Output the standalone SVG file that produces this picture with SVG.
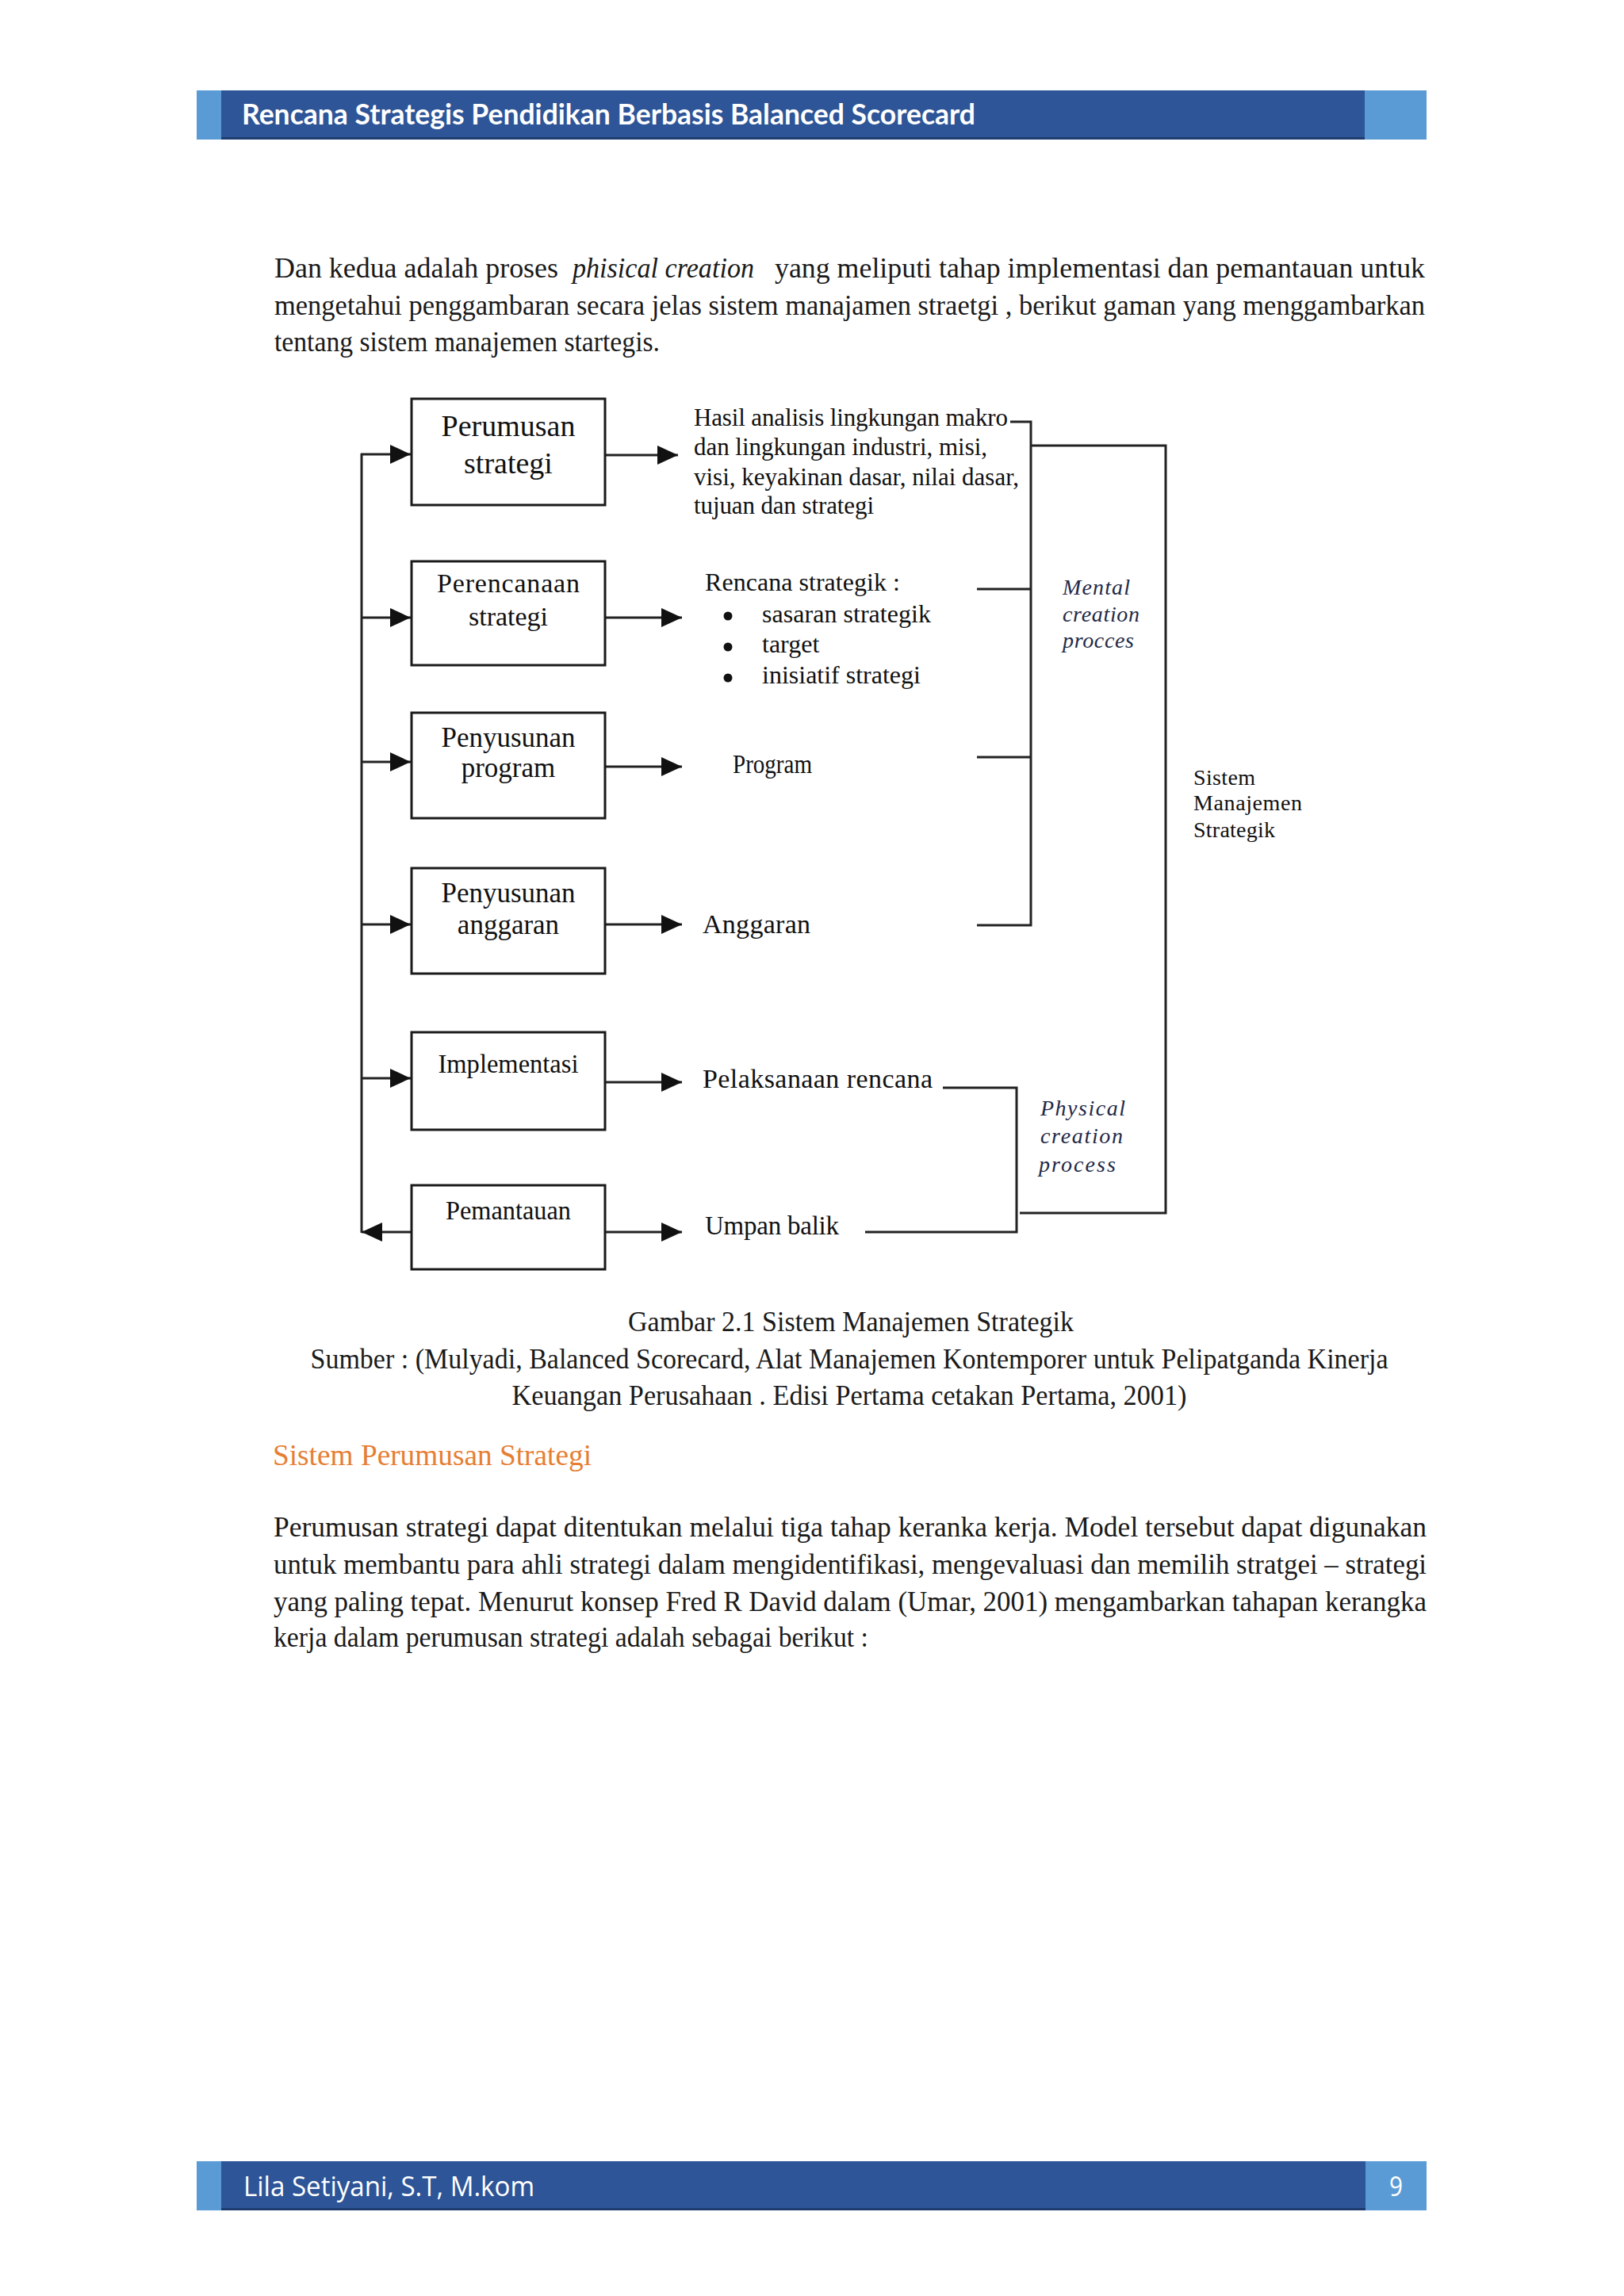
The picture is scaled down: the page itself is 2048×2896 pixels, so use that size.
<svg xmlns="http://www.w3.org/2000/svg" width="2048" height="2896" viewBox="0 0 2048 2896">
<defs>
<style>
.body{font-family:"Liberation Serif","Times New Roman",serif;font-size:35px;fill:#1a1a1a}
.dia{font-family:"Liberation Serif","Times New Roman",serif;fill:#111}
.box{fill:#fff;stroke:#1a1a1a;stroke-width:3}
.ln{fill:none;stroke:#222;stroke-width:3}
.ital{font-family:"Liberation Serif","Times New Roman",serif;font-style:italic;font-size:28px;fill:#1f2a48}
.hdr{font-family:Lato,"Open Sans",sans-serif;font-weight:bold;fill:#fff}
.ftr{font-family:"Open Sans","Noto Sans",sans-serif;fill:#fff}
</style>
<marker id="ah" viewBox="0 0 26 24" refX="26" refY="12" markerWidth="26" markerHeight="24" markerUnits="userSpaceOnUse" orient="auto">
<path d="M0,0 L26,12 L0,24 Z" fill="#111"/>
</marker>
</defs>
<rect x="0" y="0" width="2048" height="2896" fill="#fff"/>

<g id="header">
<rect x="248" y="114" width="1551" height="62" fill="#5b9bd5"/>
<rect x="279" y="114" width="1442" height="62" fill="#2e5597"/>
<rect x="279" y="173" width="1442" height="3" fill="#1f3c6e"/>
<text class="hdr" x="305" y="157" font-size="36" textLength="925" lengthAdjust="spacingAndGlyphs">Rencana Strategis Pendidikan Berbasis Balanced Scorecard</text>
</g>

<g id="intro-paragraph">
<text class="body" x="346" y="350" textLength="358" lengthAdjust="spacingAndGlyphs">Dan kedua adalah proses</text>
<text class="body" x="722" y="350" font-style="italic" textLength="229" lengthAdjust="spacingAndGlyphs">phisical creation</text>
<text class="body" x="977" y="350" textLength="820" lengthAdjust="spacingAndGlyphs">yang meliputi tahap implementasi dan pemantauan untuk</text>
<text class="body" x="346" y="397" textLength="1451" lengthAdjust="spacingAndGlyphs">mengetahui penggambaran secara jelas sistem manajamen straetgi , berikut gaman yang menggambarkan</text>
<text class="body" x="346" y="443" textLength="486" lengthAdjust="spacingAndGlyphs">tentang sistem manajemen startegis.</text>
</g>

<g id="connectors">
<line class="ln" x1="456" y1="572" x2="456" y2="1555"/>
<line class="ln" x1="455" y1="573" x2="518" y2="573" marker-end="url(#ah)"/>
<line class="ln" x1="455" y1="779" x2="518" y2="779" marker-end="url(#ah)"/>
<line class="ln" x1="455" y1="961" x2="518" y2="961" marker-end="url(#ah)"/>
<line class="ln" x1="455" y1="1166" x2="518" y2="1166" marker-end="url(#ah)"/>
<line class="ln" x1="455" y1="1360" x2="518" y2="1360" marker-end="url(#ah)"/>
<line class="ln" x1="519" y1="1554" x2="456" y2="1554" marker-end="url(#ah)"/>
<line class="ln" x1="763" y1="574" x2="855" y2="574" marker-end="url(#ah)"/>
<line class="ln" x1="763" y1="779" x2="860" y2="779" marker-end="url(#ah)"/>
<line class="ln" x1="763" y1="967" x2="860" y2="967" marker-end="url(#ah)"/>
<line class="ln" x1="763" y1="1166" x2="860" y2="1166" marker-end="url(#ah)"/>
<line class="ln" x1="763" y1="1365" x2="860" y2="1365" marker-end="url(#ah)"/>
<line class="ln" x1="763" y1="1554" x2="860" y2="1554" marker-end="url(#ah)"/>
<polyline class="ln" points="1274,532 1300,532 1300,1167 1232,1167"/>
<line class="ln" x1="1232" y1="743" x2="1300" y2="743"/>
<line class="ln" x1="1232" y1="955" x2="1300" y2="955"/>
<polyline class="ln" points="1189,1372 1282,1372 1282,1554 1091,1554"/>
<polyline class="ln" points="1300,562 1470,562 1470,1530 1286,1530"/>
</g>

<g id="node-perumusan">
<rect class="box" x="519" y="503" width="244" height="134"/>
<text class="dia" x="641" y="550" font-size="38" text-anchor="middle">Perumusan</text>
<text class="dia" x="641" y="597" font-size="38" text-anchor="middle">strategi</text>
</g>
<g id="node-perencanaan">
<rect class="box" x="519" y="708" width="244" height="131"/>
<text class="dia" x="641" y="747" font-size="34" text-anchor="middle" textLength="180">Perencanaan</text>
<text class="dia" x="641" y="789" font-size="34" text-anchor="middle">strategi</text>
</g>
<g id="node-penyusunan-program">
<rect class="box" x="519" y="899" width="244" height="133"/>
<text class="dia" x="641" y="942" font-size="35" text-anchor="middle">Penyusunan</text>
<text class="dia" x="641" y="980" font-size="35" text-anchor="middle">program</text>
</g>
<g id="node-penyusunan-anggaran">
<rect class="box" x="519" y="1095" width="244" height="133"/>
<text class="dia" x="641" y="1138" font-size="35" text-anchor="middle">Penyusunan</text>
<text class="dia" x="641" y="1178" font-size="35" text-anchor="middle">anggaran</text>
</g>
<g id="node-implementasi">
<rect class="box" x="519" y="1302" width="244" height="123"/>
<text class="dia" x="641" y="1353" font-size="34" text-anchor="middle" textLength="177" lengthAdjust="spacingAndGlyphs">Implementasi</text>
</g>
<g id="node-pemantauan">
<rect class="box" x="519" y="1495" width="244" height="106"/>
<text class="dia" x="641" y="1538" font-size="33" text-anchor="middle" textLength="158" lengthAdjust="spacingAndGlyphs">Pemantauan</text>
</g>

<g id="out-hasil">
<text class="dia" font-size="31"><tspan x="875" y="537" textLength="396">Hasil analisis lingkungan makro</tspan><tspan x="875" y="574" textLength="370">dan lingkungan industri, misi,</tspan><tspan x="875" y="612" textLength="410">visi, keyakinan dasar, nilai dasar,</tspan><tspan x="875" y="648" textLength="227">tujuan dan strategi</tspan></text>
</g>
<g id="out-rencana">
<text class="dia" x="889" y="745" font-size="32" textLength="246">Rencana strategik :</text>
<circle cx="918" cy="777" r="5.5" fill="#111"/>
<circle cx="918" cy="816" r="5.5" fill="#111"/>
<circle cx="918" cy="855" r="5.5" fill="#111"/>
<text class="dia" x="961" y="785" font-size="32" textLength="213">sasaran strategik</text>
<text class="dia" x="961" y="823" font-size="32">target</text>
<text class="dia" x="961" y="862" font-size="32">inisiatif strategi</text>
</g>
<g id="out-program">
<text class="dia" x="924" y="975" font-size="34" textLength="100" lengthAdjust="spacingAndGlyphs">Program</text>
</g>
<g id="out-anggaran">
<text class="dia" x="886" y="1177" font-size="34" textLength="136">Anggaran</text>
</g>
<g id="out-pelaksanaan">
<text class="dia" x="886" y="1372" font-size="34" textLength="290">Pelaksanaan rencana</text>
</g>
<g id="out-umpan">
<text class="dia" x="889" y="1557" font-size="33" textLength="169">Umpan balik</text>
</g>

<g id="label-mental">
<text class="ital"><tspan x="1340" y="750" textLength="85">Mental</tspan><tspan x="1340" y="784" textLength="97">creation</tspan><tspan x="1340" y="817" textLength="90">procces</tspan></text>
</g>
<g id="label-physical">
<text class="ital"><tspan x="1312" y="1407" textLength="107">Physical</tspan><tspan x="1312" y="1442" textLength="104">creation</tspan><tspan x="1310" y="1478" textLength="97">process</tspan></text>
</g>
<g id="label-sistem">
<text class="dia" font-size="28" fill="#1a1a1a"><tspan x="1505" y="990" textLength="78">Sistem</tspan><tspan x="1505" y="1022" textLength="137">Manajemen</tspan><tspan x="1505" y="1056" textLength="103">Strategik</tspan></text>
</g>

<g id="caption">
<text class="body" x="1073" y="1679" text-anchor="middle" textLength="562" lengthAdjust="spacingAndGlyphs">Gambar 2.1 Sistem Manajemen Strategik</text>
<text class="body" x="1071" y="1726" text-anchor="middle" textLength="1359" lengthAdjust="spacingAndGlyphs">Sumber : (Mulyadi, Balanced Scorecard, Alat Manajemen Kontemporer untuk Pelipatganda Kinerja</text>
<text class="body" x="1071" y="1772" text-anchor="middle" textLength="851" lengthAdjust="spacingAndGlyphs">Keuangan Perusahaan . Edisi Pertama cetakan Pertama, 2001)</text>
</g>

<g id="section-heading">
<text x="344" y="1848" font-family="Liberation Serif, Times New Roman, serif" font-size="38" fill="#e67e33" textLength="402" lengthAdjust="spacingAndGlyphs">Sistem Perumusan Strategi</text>
</g>

<g id="paragraph-2">
<text class="body" x="345" y="1938" textLength="1454" lengthAdjust="spacingAndGlyphs">Perumusan strategi dapat ditentukan melalui tiga tahap keranka kerja. Model tersebut dapat digunakan</text>
<text class="body" x="345" y="1985" textLength="1454" lengthAdjust="spacingAndGlyphs">untuk membantu para ahli strategi dalam mengidentifikasi, mengevaluasi dan memilih stratgei – strategi</text>
<text class="body" x="345" y="2032" textLength="1454" lengthAdjust="spacingAndGlyphs">yang paling tepat. Menurut konsep Fred R David dalam (Umar, 2001) mengambarkan tahapan kerangka</text>
<text class="body" x="345" y="2077" textLength="750" lengthAdjust="spacingAndGlyphs">kerja dalam perumusan strategi adalah sebagai berikut :</text>
</g>

<g id="footer">
<rect x="248" y="2726" width="1551" height="62" fill="#5b9bd5"/>
<rect x="279" y="2726" width="1443" height="62" fill="#2e5597"/>
<rect x="279" y="2785" width="1443" height="3" fill="#1f3c6e"/>
<text class="ftr" x="307" y="2770" font-size="34" textLength="367" lengthAdjust="spacingAndGlyphs">Lila Setiyani, S.T, M.kom</text>
<text class="ftr" x="1752" y="2770" font-size="34" textLength="17" lengthAdjust="spacingAndGlyphs">9</text>
</g>
</svg>
